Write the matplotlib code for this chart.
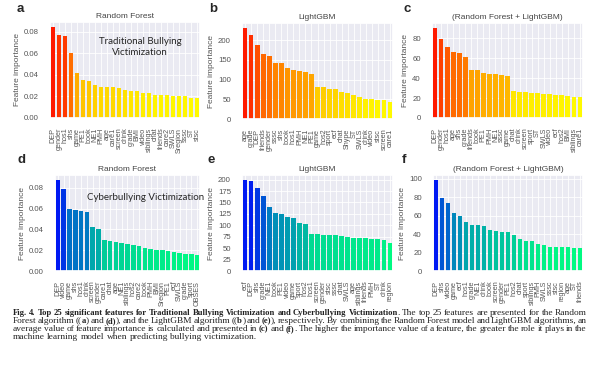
import numpy as np
import matplotlib as mpl
mpl.use('Agg')
import matplotlib.pyplot as plt
import seaborn as sns
from matplotlib.ticker import MultipleLocator

#
#--- feature names and importance values
#
rf_trad_names = ['DEP', 'gender', 'hos1', 'shs', 'game', 'PE1', 'book', 'NE1', 'PMH', 'age',
                 'care1', 'screen', 'drink', 'grade', 'BMI', 'video', 'siblings', 'chat',
                 'friends', 'care2', 'SWLS', 'Sregion', 'sssc', 'ST', 'stsc']
rf_trad_vals = [0.085, 0.077, 0.076, 0.060, 0.042, 0.035, 0.034, 0.031, 0.029, 0.029,
                0.029, 0.028, 0.026, 0.025, 0.025, 0.023, 0.023, 0.021, 0.021, 0.021,
                0.020, 0.020, 0.020, 0.019, 0.019]

lgb_trad_names = ['age', 'grade', 'DEP', 'friends', 'gender', 'sssc', 'shs', 'book', 'hos1',
                  'PMH', 'NE1', 'PE1', 'game', 'hos2', 'sport', 'ecf', 'chat', 'Shype', 'ST',
                  'SWLS', 'drink', 'video', 'stsc', 'screen', 'care1']
lgb_trad_vals = [232, 214, 188, 166, 160, 143, 141, 129, 125, 123, 119, 114, 82, 81, 76,
                 75, 68, 66, 61, 57, 52, 50, 47, 47, 44]

avg_trad_names = ['DEP', 'gender', 'hos1', 'age', 'shs', 'grade', 'friends', 'book', 'PE1',
                  'PMH', 'NE1', 'sssc', 'game', 'chat', 'drink', 'screen', 'sport', 'ST',
                  'SWLS', 'video', 'ecf', 'hos2', 'BMI', 'siblings', 'care1']
avg_trad_vals = [91, 79, 71, 66, 65, 61, 48, 48, 45, 44, 44, 43, 42, 27, 26.5, 26, 25, 25,
                 24.5, 24.5, 23.5, 23, 22.5, 21.5, 21]

rf_cyb_names = ['DEP', 'video', 'game', 'shs', 'hos1', 'drink', 'screen', 'gender', 'care1',
                'chat', 'age', 'NE1', 'siblings', 'hos2', 'care2', 'book', 'PMH', 'BMI',
                'Sregion', 'PE1', 'ecf', 'SWLS', 'grade', 'sport', 'OBSES']
rf_cyb_vals = [0.088, 0.079, 0.060, 0.059, 0.058, 0.057, 0.042, 0.040, 0.030, 0.029,
               0.028, 0.027, 0.026, 0.025, 0.024, 0.022, 0.021, 0.020, 0.020, 0.019,
               0.018, 0.017, 0.016, 0.016, 0.015]

lgb_cyb_names = ['ecf', 'DEP', 'shs', 'grade', 'NE1', 'book', 'PE1', 'video', 'game', 'sport',
                 'hos2', 'hos1', 'screen', 'gender', 'stsc', 'sssc', 'chat', 'SWLS', 'age',
                 'siblings', 'friends', 'PMH', 'ST', 'drink', 'region']
lgb_cyb_vals = [200, 197, 181, 163, 139, 127, 125, 119, 117, 105, 102, 81, 80, 79, 79, 78,
                76, 75, 73, 73, 72, 71, 71, 68, 61]

avg_cyb_names = ['DEP', 'shs', 'video', 'game', 'ecf', 'hos1', 'grade', 'NE1', 'drink', 'book',
                 'screen', 'gender', 'PE1', 'hos2', 'chat', 'sport', 'siblings', 'PMH', 'SWLS',
                 'sssc', 'stsc', 'region', 'age', 'ST', 'friends']
avg_cyb_vals = [99, 79, 74, 63, 60, 53, 50, 50, 49, 44, 43.5, 42.5, 42, 39.5, 35, 33, 32.5,
                29, 28, 26.5, 26.5, 26, 26, 25, 25]

#
#--- style
#
sns.set_theme(style='darkgrid')
plt.rcParams['font.family'] = ['Liberation Sans', 'DejaVu Sans']

W, H = 600.0, 366.0
fig = plt.figure(figsize=(6.0, 3.66), dpi=100)
fig.patch.set_facecolor('white')


def px_axes(x0, x1, ytop, ybot):
    return fig.add_axes([x0 / W, 1 - ybot / H, (x1 - x0) / W, (ybot - ytop) / H])


def plot_panel(ax, names, vals, cmap, title, step, letter, lx, ly):
    n = len(names)
    v = np.asarray(vals, dtype=float)
#
#--- bar colour follows the value: largest -> start of the map, smallest -> end
#
    frac = (v.max() - v) / (v.max() - v.min())
    colors = plt.get_cmap(cmap)(0.1 + 0.88 * frac)
    ax.bar(np.arange(n), v, color=colors, width=0.8, linewidth=0)
    ax.set_xlim(-0.5, n - 0.5)
    ax.set_xticks(np.arange(n))
    ax.set_xticklabels(names, rotation=90, fontsize=5.2, color='#555555')
    ax.yaxis.set_major_locator(MultipleLocator(step))
    ax.tick_params(axis='y', labelsize=5.6, labelcolor='#555555', pad=2)
    ax.tick_params(axis='x', pad=1)
    ax.set_title(title, fontsize=6, color='#444444', pad=3)
    ax.set_ylabel('Feature importance', fontsize=6, color='#555555', labelpad=2)
    ax.grid(True, color='white', lw=0.6)
    fig.text(lx / W, 1 - ly / H, letter, fontsize=9.5, fontweight='bold', ha='left', va='center')


ax_a = px_axes(50, 200, 22, 118)
ax_b = px_axes(242, 393, 23, 119)
ax_c = px_axes(432, 583, 23, 118)
ax_d = px_axes(55, 200, 175, 271)
ax_e = px_axes(242, 393, 175, 271)
ax_f = px_axes(433, 583, 175, 271)

plot_panel(ax_a, rf_trad_names, rf_trad_vals, 'autumn', 'Random Forest', 0.02, 'a', 17, 9)
plot_panel(ax_b, lgb_trad_names, lgb_trad_vals, 'autumn', 'LightGBM', 50, 'b', 209, 9)
plot_panel(ax_c, avg_trad_names, avg_trad_vals, 'autumn', '(Random Forest + LightGBM)', 20, 'c', 403, 9)
plot_panel(ax_d, rf_cyb_names, rf_cyb_vals, 'winter', 'Random Forest', 0.02, 'd', 18, 160)
plot_panel(ax_e, lgb_cyb_names, lgb_cyb_vals, 'winter', 'LightGBM', 25, 'e', 208, 160)
plot_panel(ax_f, avg_cyb_names, avg_cyb_vals, 'winter', '(Random Forest + LightGBM)', 20, 'f', 402, 160)

#
#--- panel annotations
#
fig.text(140 / W, 1 - 47 / H, 'Traditional Bullying\nVictimization', fontsize=7,
         family=['Lato', 'DejaVu Sans'], ha='center', va='center', linespacing=1.3)
fig.text(146 / W, 1 - 197 / H, 'Cyberbullying Victimization', fontsize=7,
         family=['Lato', 'DejaVu Sans'], ha='center', va='center')

#
#--- caption: words are lists of (text, bold) pieces, lines are justified
#
cap_lines = [
    [('Fig. 4.  Top 25 significant features for Traditional Bullying Victimization and Cyberbullying Victimization', True),
     ('. The top 25 features are presented for the Random', False)],
    [('Forest algorithm ((', False), ('a', True), (') and ', False), ('(d)', True),
     ('), and the LightGBM algorithm ((', False), ('b', True), (') and ', False), ('(e)', True),
     ('), respectively. By combining the Random Forest model and LightGBM algorithms, an', False)],
    [('average value of feature importance is calculated and presented in ', False), ('(c)', True),
     (' and ', False), ('(f)', True),
     ('. The higher the importance value of a feature, the greater the role it plays in the', False)],
    [('machine learning model when predicting bullying victimization.', False)],
]


def split_words(segs):
    words = [[]]
    for txt, bold in segs:
        parts = txt.split(' ')
        for k, p in enumerate(parts):
            if k > 0:
                words.append([])
            if p:
                words[-1].append((p, bold))
    return [w for w in words if w]


renderer = fig.canvas.get_renderer()
cap_x0, cap_x1 = 13, 587
fs_reg, fs_bold = 6.75, 6.2
y = 313
for li, segs in enumerate(cap_lines):
    words = split_words(segs)
    arts = []
    widths = []
    for w in words:
        pieces = []
        wsum = 0
        for txt, bold in w:
            t = fig.text(0, 1 - y / H, txt, fontsize=fs_bold if bold else fs_reg,
                         family='Liberation Serif',
                         fontweight='bold' if bold else 'normal', ha='left', va='center',
                         color='#222222')
            pw = t.get_window_extent(renderer).width
            pieces.append((t, pw))
            wsum += pw
        arts.append(pieces)
        widths.append(wsum)
    space = fs_reg * 100 / 72 * 0.25
    if li < len(cap_lines) - 1 and len(words) > 1:
        space = (cap_x1 - cap_x0 - sum(widths)) / (len(words) - 1)
    x = cap_x0
    for pieces, wsum in zip(arts, widths):
        for t, pw in pieces:
            t.set_x(x / W)
            x += pw
        x += space
    y += 8.0

plt.savefig('out.png', dpi=100, facecolor='white')
